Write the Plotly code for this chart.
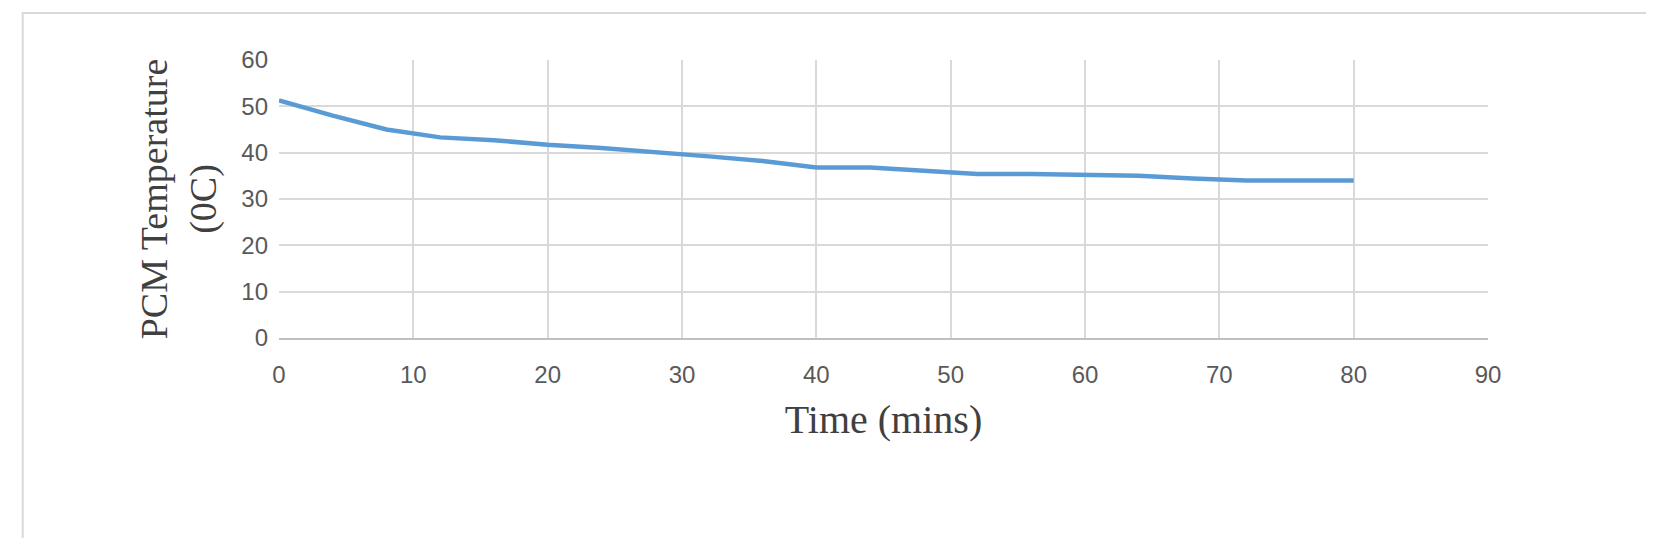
import plotly.graph_objects as go

time_min = [0, 4, 8, 12, 16, 20, 24, 28, 32, 36, 40, 44, 48, 52, 56, 60, 64, 68, 72, 76, 80]
pcm_temp = [51.3, 48.0, 45.0, 43.3, 42.7, 41.7, 41.0, 40.2, 39.2, 38.2, 36.8, 36.8, 36.1, 35.4, 35.4, 35.1, 35.0, 34.4, 34.0, 34.0, 34.0]

fig = go.Figure(go.Scatter(x=time_min, y=pcm_temp, mode="lines",
                           line=dict(color="#5b9bd5", width=4.5)))
tickfont = dict(family="Liberation Sans, Arial", size=24, color="#595959")
fig.update_layout(
    width=1654, height=538, paper_bgcolor="white", plot_bgcolor="white",
    margin=dict(l=271, r=174, t=52, b=208), showlegend=False,
    xaxis=dict(range=[0, 90], dtick=10, showgrid=True, gridcolor="#d9d9d9", gridwidth=2,
               zeroline=False, showline=True, linecolor="#bfbfbf", linewidth=2,
               tickfont=tickfont, ticks="", ticklabelstandoff=14,
               title=dict(text="Time (mins)", font=dict(family="Liberation Serif, Times New Roman", size=40, color="#404040"), standoff=18)),
    yaxis=dict(range=[0, 60], dtick=10, showgrid=True, gridcolor="#d9d9d9", gridwidth=2,
               zeroline=False, showline=False, tickfont=tickfont, ticks="", ticklabelstandoff=10,
               title=dict(text="PCM Temperature<br>(0C)", font=dict(family="Liberation Serif, Times New Roman", size=38, color="#404040"), standoff=12)),
    shapes=[dict(type="rect", xref="paper", yref="paper", x0=-0.212, x1=1.132, y0=-0.8, y1=1.169,
                 line=dict(color="#d9d9d9", width=2), fillcolor="rgba(0,0,0,0)", layer="below")],
)
fig.write_html("out.html")
